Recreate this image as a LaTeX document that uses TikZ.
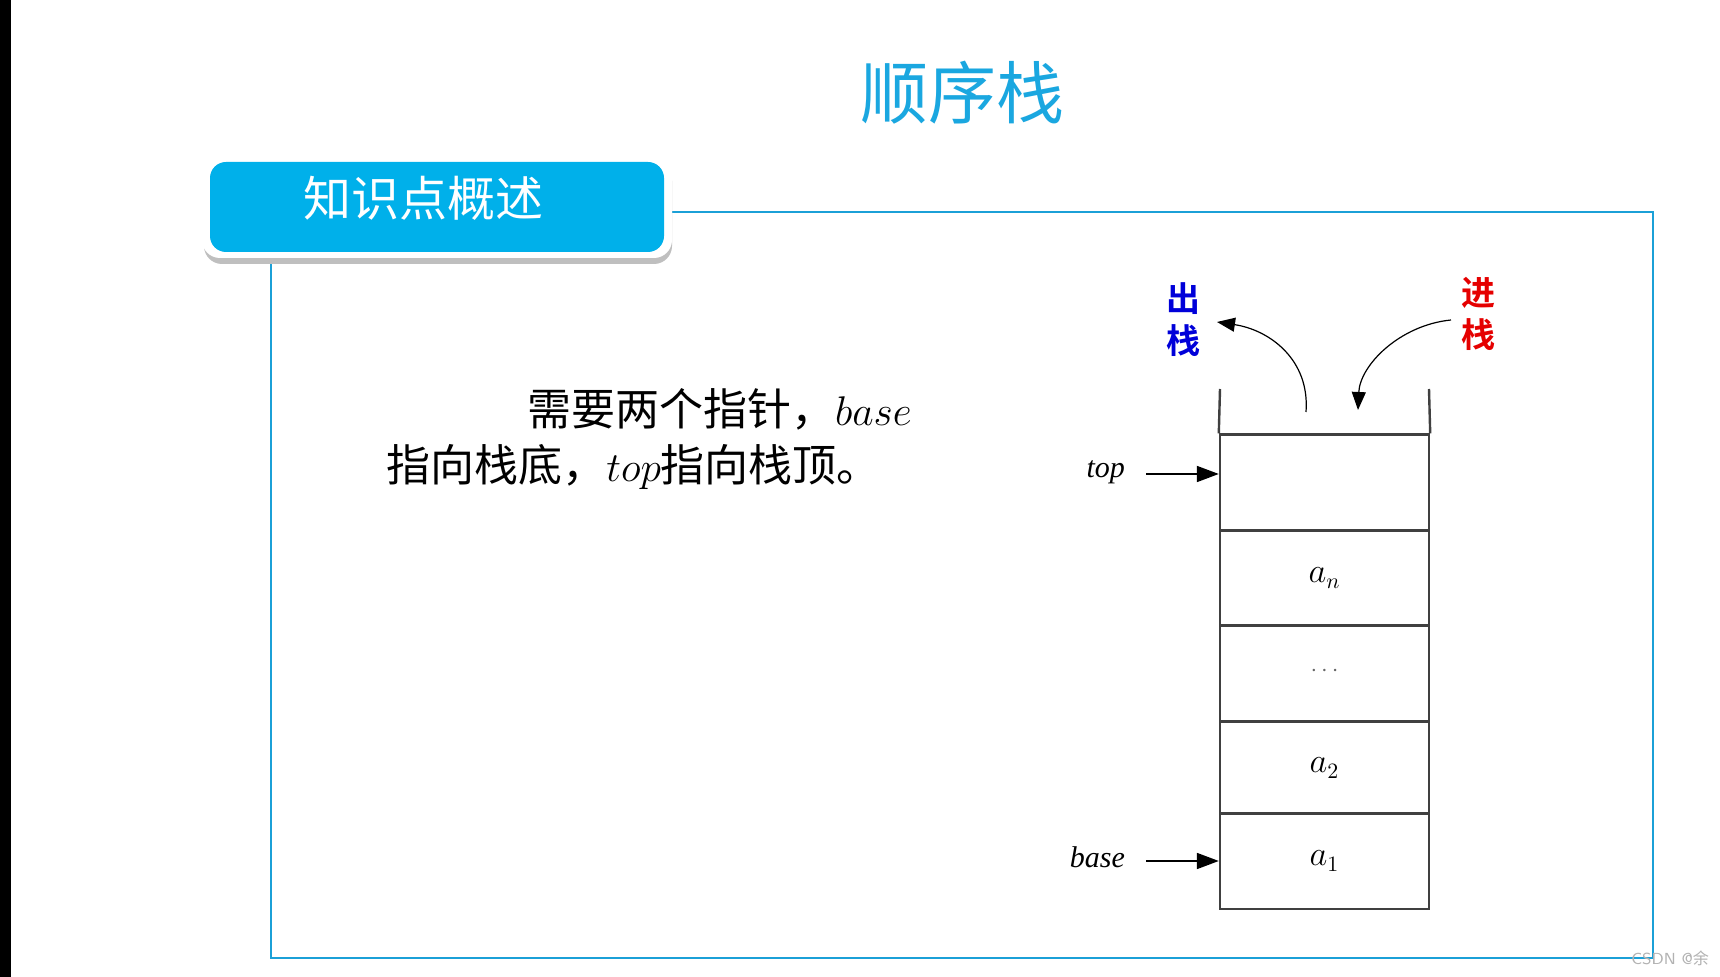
\documentclass[tikz,border=0pt]{standalone}
\usepackage{fontspec}
\setmainfont{Liberation Serif}
\newfontfamily\cjk{Noto Sans CJK SC}
\newfontfamily\cjkb{Noto Sans CJK SC Bold}
\usetikzlibrary{arrows.meta}
\definecolor{cyanT}{HTML}{1AA7E0}
\definecolor{tabC}{HTML}{00B0EA}
\definecolor{frameC}{HTML}{1BA0D7}
\tikzset{
  cell/.style={draw=black!75,line width=1.2pt,minimum width=104.5pt,minimum height=48pt,inner sep=0pt},
  lab/.style={font=\fontsize{15}{15}\selectfont\itshape},
  ptr/.style={-{Triangle[length=11pt,width=8pt]},line width=0.9pt},
  curvearrow/.style={-{Triangle[length=9pt,width=7pt]},line width=0.6pt}
}
\begin{document}
\begin{tikzpicture}[x=0.5pt,y=-0.5pt]
\useasboundingbox (0,0) rectangle (1720,977);
\fill[white] (0,0) rectangle (1720,977);
\fill[black] (0,0) rectangle (11,977);
\node (title) at (962,93) {\cjk\fontsize{34}{34}\selectfont\color{cyanT}顺序栈};
\draw[frameC,line width=1pt] (666,212) -- (1653,212) -- (1653,958) -- (271,958) -- (271,255);
\fill[black!25,rounded corners=9pt] (204,163) rectangle (672,264);
\fill[white,rounded corners=9pt] (202,156) rectangle (672,258);
\fill[tabC,rounded corners=8pt] (210,162) rectangle (664,252);
\node (tab) at (423,198) {\cjk\fontsize{24}{24}\selectfont\color{white}知识点概述};
\node[anchor=east,inner sep=0pt] (l1) at (912,409) {\cjk\fontsize{22}{22}\selectfont 需要两个指针，$base$};
\node[anchor=west,inner sep=0pt] (l2) at (386,467) {\cjk\fontsize{22}{22}\selectfont 指向栈底，$top$指向栈顶。};
% stack
\node[cell] (c1) at (1324.5,861) {\fontsize{16}{16}\selectfont$a_1$};
\node[cell,minimum height=46pt] (c2) at (1324.5,768) {\fontsize{16}{16}\selectfont$a_2$};
\node[cell] (c3) at (1324.5,673.5) {\fontsize{12}{12}\selectfont\raisebox{2pt}{\color{black!60}$\cdots$}};
\node[cell,minimum height=47pt] (c4) at (1324.5,578) {\fontsize{16}{16}\selectfont$a_n$};
\node[cell] (c5) at (1324.5,482.5) {};
\coordinate (wl) at (1220,389);
\coordinate (wr) at (1429,389);
\draw[black!75,line width=1.2pt] (wl) -- (c5.north west);
\draw[black!75,line width=1.2pt] (wr) -- (c5.north east);
\node[lab,anchor=east] (top) at (1132,472) {top};
\node[lab,anchor=east] (base) at (1132,857) {base};
\draw[ptr] (1146,474) -- (c5.west |- 0,474);
\draw[ptr] (1146,861) -- (c1.west);
\node[font=\cjkb\fontsize{17}{21}\selectfont,text=blue!85!black,align=center] (out) at (1183,320) {出\\栈};
\node[font=\cjkb\fontsize{17}{21}\selectfont,text=red!90!black,align=center] (in) at (1478,314) {进\\栈};
\coordinate (o1) at (1306,412);
\coordinate (o2) at (1217,322);
\coordinate (i1) at (1451,320);
\coordinate (i2) at (1358,410);
\draw[curvearrow] (o1) .. controls (1310,360) and (1270,330) .. (o2);
\draw[curvearrow] (i1) .. controls (1400,325) and (1360,365) .. (i2);
\node[anchor=east,text=black!30,font=\fontsize{8}{8}\selectfont\sffamily] (wm) at (1716,958) {CSDN @\cjk 余};
\end{tikzpicture}
\end{document}
